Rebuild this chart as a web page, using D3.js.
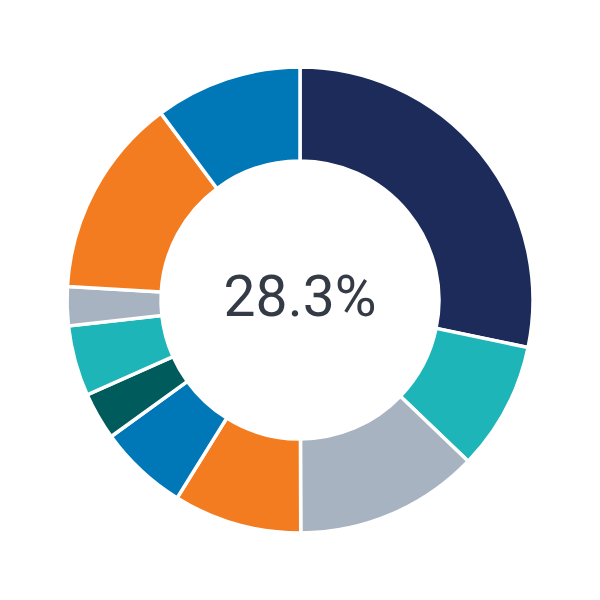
<!DOCTYPE html>
<html><head><meta charset="utf-8">
<script src="https://cdn.jsdelivr.net/npm/d3@7"></script>
<style>body{margin:0;background:#fff}</style>
</head><body>
<svg id="c" width="600" height="600"></svg>
<script>
const categories = ["A","B","C","D","E","F","G","H","I","J"];
const values = [28.3, 8.9, 12.8, 8.9, 6.2, 3.3, 4.9, 2.7, 13.9, 10.2];
const colors = ["#1c2b5a","#1eb5b8","#a8b3c1","#f47c20","#0077b6","#005b5c","#1eb5b8","#a8b3c1","#f47c20","#0077b6"];
const centerLabel = "28.3%";

const svg = d3.select("#c");
const g = svg.append("g").attr("transform","translate(300,300)");
const pie = d3.pie().sort(null).value(d=>d.v);
const arc = d3.arc().innerRadius(139).outerRadius(233);
const data = categories.map((c,i)=>({c, v: values[i], col: colors[i]}));
g.selectAll("path").data(pie(data)).join("path")
  .attr("d", arc).attr("fill", d=>d.data.col)
  .attr("stroke","#fff").attr("stroke-width",3.5);
g.append("text").attr("text-anchor","middle").attr("y",16)
  .attr("font-family","Roboto, 'Helvetica Neue', Arial, sans-serif")
  .attr("font-size",57).attr("fill","#343a46").text(centerLabel);
</script>
</body></html>
